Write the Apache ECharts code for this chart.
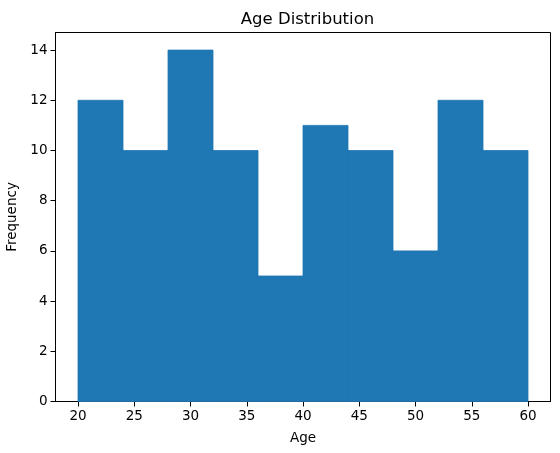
<html>
<head>
<meta charset="UTF-8" />
<script src="https://cdn.jsdelivr.net/npm/echarts@6/dist/echarts.min.js"></script>
</head>
<style type="text/css">
    *{
        margin: 0;
        padding: 0;
    }
    #chart{
        width: 560px;
        height: 453px;
        background: #fff;
    }
</style>
<body>
<div id="chart"></div>
<script type="text/javascript">
    // histogram bins (left edge, right edge) and counts
    var binStarts = [20, 24, 28, 32, 36, 40, 44, 48, 52, 56];
    var binEnds = [24, 28, 32, 36, 40, 44, 48, 52, 56, 60];
    var counts = [12, 10, 14, 10, 5, 11, 10, 6, 12, 10];
    var xTicks = [20, 25, 30, 35, 40, 45, 50, 55, 60];
    var yTicks = [0, 2, 4, 6, 8, 10, 12, 14];

    var data = [];
    for (var i = 0; i < counts.length; i++) {
        data.push([binStarts[i], binEnds[i], counts[i]]);
    }

    var font = 'DejaVu Sans';
    var myChart = echarts.init(document.getElementById('chart'));
    var option = {
        animation: false,
        title: {
            text: 'Age Distribution',
            left: 302.5,
            top: 6,
            textAlign: 'center',
            textStyle: {
                fontFamily: font,
                fontSize: 16.5,
                fontWeight: 'normal',
                color: '#000'
            }
        },
        grid: {
            left: 55.5,
            top: 32.5,
            right: 9.5,
            bottom: 51.5,
            outerBoundsMode: 'none',
            containLabel: false,
            show: true,
            borderColor: '#000',
            borderWidth: 1,
            backgroundColor: 'transparent'
        },
        xAxis: {
            type: 'value',
            min: 18,
            max: 62,
            name: 'Age',
            nameLocation: 'middle',
            nameGap: 30,
            nameTextStyle: { fontFamily: font, fontSize: 13.5, color: '#000' },
            splitLine: { show: false },
            axisLine: { show: true, onZero: false, lineStyle: { color: '#000', width: 1 } },
            axisTick: { show: true, length: 5, customValues: xTicks, lineStyle: { color: '#000' } },
            axisLabel: {
                customValues: xTicks,
                margin: 8,
                fontFamily: font,
                fontSize: 13.5,
                color: '#000'
            }
        },
        yAxis: {
            type: 'value',
            min: 0,
            max: 14.7,
            name: 'Frequency',
            nameLocation: 'middle',
            nameGap: 33,
            nameRotate: 90,
            nameTextStyle: { fontFamily: font, fontSize: 13.5, color: '#000' },
            splitLine: { show: false },
            axisLine: { show: true, lineStyle: { color: '#000', width: 1 } },
            axisTick: { show: true, length: 5, customValues: yTicks, lineStyle: { color: '#000' } },
            axisLabel: {
                customValues: yTicks,
                margin: 8,
                fontFamily: font,
                fontSize: 13.5,
                color: '#000'
            }
        },
        series: [{
            type: 'custom',
            data: data,
            encode: { x: [0, 1], y: 2 },
            renderItem: function (params, api) {
                var p0 = api.coord([api.value(0), 0]);
                var p1 = api.coord([api.value(1), api.value(2)]);
                return {
                    type: 'rect',
                    shape: {
                        x: p0[0],
                        y: p1[1],
                        width: p1[0] - p0[0],
                        height: p0[1] - p1[1]
                    },
                    style: { fill: '#1f77b4', stroke: '#1f77b4', lineWidth: 0.8 }
                };
            }
        }]
    };
    myChart.setOption(option);
</script>
</body>
</html>
